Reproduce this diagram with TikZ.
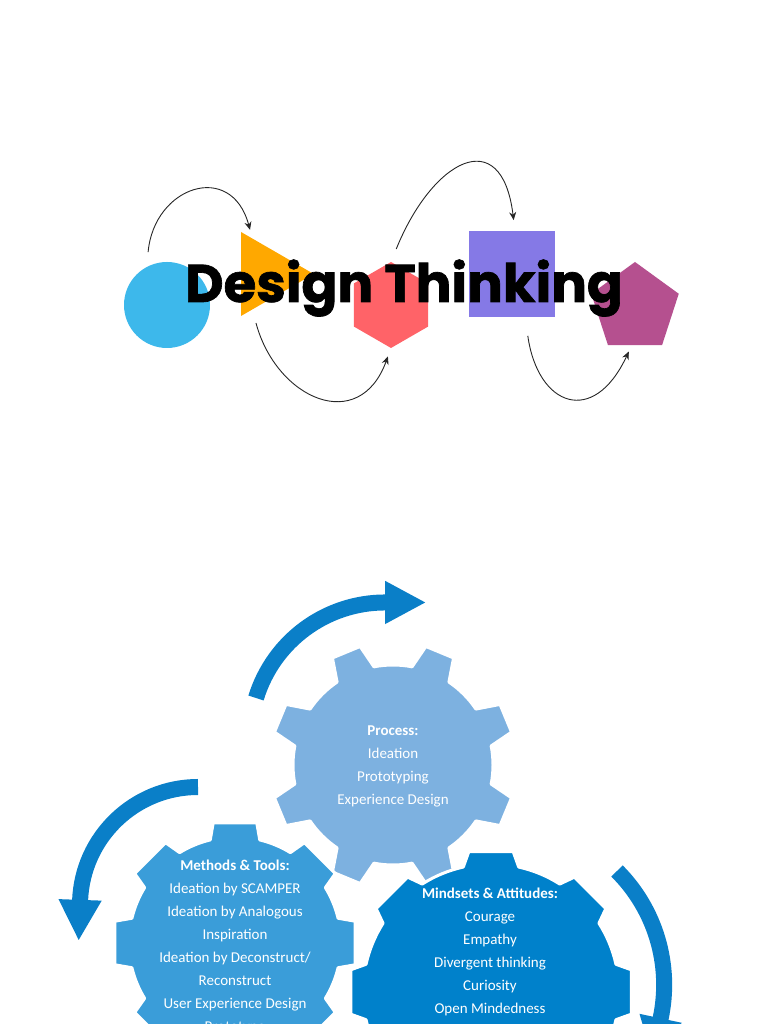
\documentclass[tikz,border=0pt]{standalone}
\usepackage{fontspec}
\usetikzlibrary{shapes.geometric,arrows.meta}
\newfontfamily\gearfont{Carlito}
\newfontfamily\titlefont{Poppins}[BoldFeatures={FakeBold=1.3}]

\definecolor{dtcircle}{HTML}{3DB8EB}
\definecolor{dttri}{HTML}{FFA800}
\definecolor{dthex}{HTML}{FF6368}
\definecolor{dtsquare}{HTML}{8579E6}
\definecolor{dtpent}{HTML}{B5508F}
\definecolor{gearlight}{HTML}{7DB1E0}
\definecolor{gearmid}{HTML}{3A9DD9}
\definecolor{geardark}{HTML}{0081CB}
\definecolor{cyclearrow}{HTML}{0A7FC8}

% #1,#2 centre, #3 body radius, #4 tip radius, #5 rotation, #6 tip half angle, #7 base half angle, #8 colour
\newcommand\drawgear[8]{%
  \fill[#8, draw=white, line width=3pt, line join=round, shift={(#1,#2)}]
    ({#5-#7}:#3) \foreach \k in {0,...,7}{
      -- ({#5+45*\k-#6}:#4) -- ({#5+45*\k+#6}:#4) -- ({#5+45*\k+#7}:#3)
      arc[start angle={#5+45*\k+#7}, end angle={#5+45*\k+45-#7}, radius=#3]
    } -- cycle;}

\tikzset{
  shapenode/.style={inner sep=0pt, outer sep=0pt},
  flow/.style={line width=0.9pt, black!85, -{Stealth[length=8pt,width=7pt]}},
  cycle/.style={line width=16pt, cyclearrow, -{Triangle[length=41pt,width=40pt]}},
  gear text/.style={text=white, align=center, font=\gearfont\fontsize{15}{23}\selectfont}
}

\begin{document}
\begin{tikzpicture}[x=1pt,y=1pt]
  \useasboundingbox (0,0) rectangle (768,1024);
  \clip (0,0) rectangle (768,1024);

  \node[shapenode, circle, fill=dtcircle, minimum size=86] (circ) at (167,719) {};
  \node[shapenode, regular polygon, regular polygon sides=3, shape border rotate=-90,
        fill=dttri, minimum size=97] (tri) at (265.25,750) {};
  \node[shapenode, regular polygon, regular polygon sides=6, shape border rotate=30,
        fill=dthex, minimum size=86] (hex) at (391,719) {};
  \node[shapenode, rectangle, fill=dtsquare, minimum size=86] (sq) at (512,750) {};
  \node[shapenode, regular polygon, regular polygon sides=5,
        fill=dtpent, minimum size=92] (pent) at (635,716) {};

  \draw[flow, shorten <=15pt, shorten >=9pt]
    (circ.118) to[out=85, in=105, looseness=1.9] (tri.110);
  \draw[flow, shorten <=14pt, shorten >=9pt]
    (tri.250) to[out=-75, in=-110, looseness=1.65] (hex.270);
  \draw[flow, shorten <=14pt, shorten >=11pt]
    (hex.90) to[out=68, in=97, looseness=2.2] (sq.86);
  \draw[flow, shorten <=19pt, shorten >=7pt]
    (sq.-73) to[out=-82, in=-115, looseness=2.1] (pent.-95);

  \node[font=\titlefont\bfseries\fontsize{53}{53}\selectfont, anchor=base] (title) at (404,722) {Design Thinking};

  \drawgear{393}{259}{100}{123}{22.5}{7}{11.5}{gearlight}
  \drawgear{235}{81}{106}{122}{0}{10.3}{13.5}{gearmid}
  \drawgear{491}{32}{128}{142}{0}{9}{12.5}{geardark}

  \coordinate (topstart) at (256,326);
  \coordinate (leftstart) at (198,237);
  \coordinate (rightstart) at (617,153);
  \draw[cycle] (topstart) arc[start angle=163, end angle=90, radius=135] -- ++(41,0);
  \draw[cycle] (leftstart) arc[start angle=90, end angle=178, radius=118] -- ++(268:40);
  \draw[cycle] (rightstart) arc[start angle=45, end angle=-12, radius=161] -- ++(258:41);

  \node[gear text] (process) at (393,257.5) {\textbf{Process:}\\Ideation\\Prototyping\\Experience Design};
  \node[gear text] (methods) at (235,77) {\textbf{Methods \& Tools:}\\Ideation by SCAMPER\\Ideation by Analogous\\Inspiration\\Ideation by Deconstruct/\\Reconstruct\\User Experience Design\\Prototype};
  \node[gear text] (mindsets) at (490,72) {\textbf{Mindsets \& Attitudes:}\\Courage\\Empathy\\Divergent thinking\\Curiosity\\Open Mindedness};
\end{tikzpicture}
\end{document}
